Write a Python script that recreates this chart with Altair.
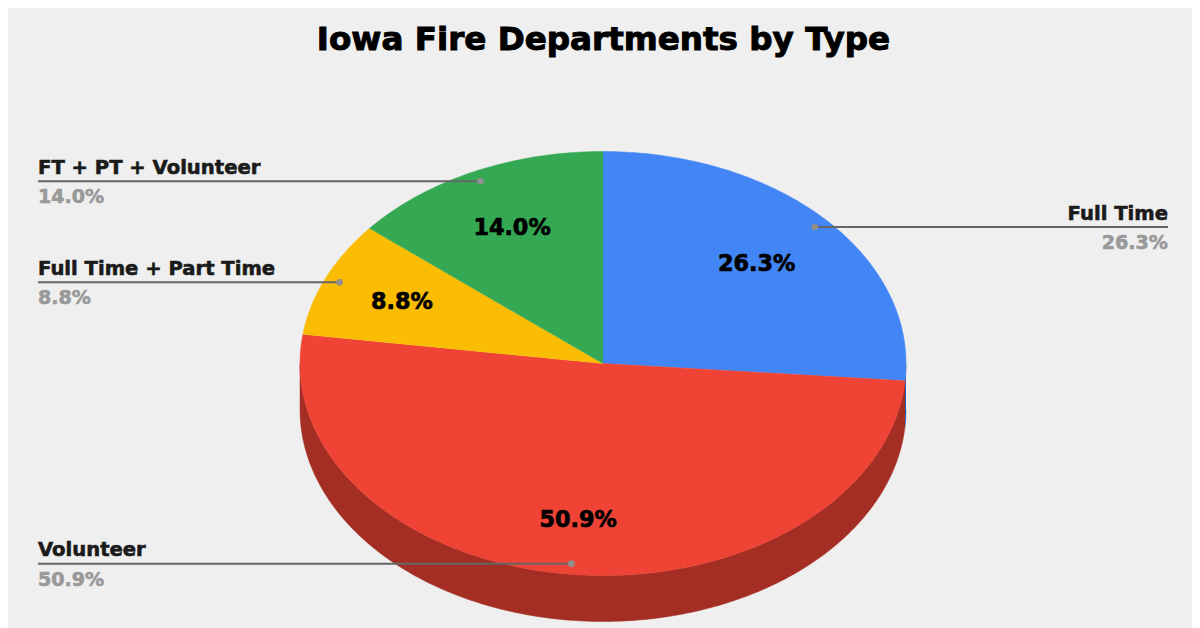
import math
import altair as alt
import pandas as pd

TITLE = "Iowa Fire Departments by Type"
categories = ["Full Time", "Volunteer", "Full Time + Part Time", "FT + PT + Volunteer"]
shares = [26.3, 50.9, 8.8, 14.0]
top_colors = ["#4285F4", "#EE4335", "#FBBC04", "#34A853"]
wall_colors = ["#2A5CAB", "#A52E24", "#B08403", "#24763A"]
label_radius = [0.69, 0.745, 0.725, 0.705]
label_side = ["right", "left", "left", "left"]

BG = "#EFEFEF"
FONT = "DejaVu Sans"
W, H = 1184, 620
CX, CY, RX, RY, DEPTH = 595, 355.5, 303, 212, 46  # plot-area pixels

xs = alt.Scale(domain=[-CX / RX, (W - CX) / RX], range=[0, W], nice=False, zero=False)
ys = alt.Scale(domain=[-(H - CY) / RY, CY / RY], range=[H, 0], nice=False, zero=False)
X = lambda f: alt.X(f, type="quantitative", scale=xs, axis=None)
Y = lambda f: alt.Y(f, type="quantitative", scale=ys, axis=None)

top_rows, wall_rows, dots, inner = [], [], [], []
start = 0.0
for i, (name, share) in enumerate(zip(categories, shares)):
    a0, a1 = start / 100 * 2 * math.pi, (start + share) / 100 * 2 * math.pi
    mid = (a0 + a1) / 2
    n = max(8, int(share * 4))
    arc = [a0 + (a1 - a0) * k / n for k in range(n + 1)]
    pts = [(0.0, 0.0)] + [(math.sin(t), math.cos(t)) for t in arc]
    for k, (px, py) in enumerate(pts):
        top_rows.append(dict(key=name, k=k, x=px, y=py))
    lo, hi = max(a0, math.pi / 2), min(a1, 3 * math.pi / 2)
    if lo < hi:
        vis = [lo + (hi - lo) * k / n for k in range(n + 1)]
        ring = [(math.sin(t), math.cos(t)) for t in vis]
        ring += [(math.sin(t), math.cos(t) - DEPTH / RY) for t in reversed(vis)]
        for k, (px, py) in enumerate(ring):
            wall_rows.append(dict(key=name, k=k, x=px, y=py))
    dx, dy = 0.95 * math.sin(mid), 0.95 * math.cos(mid)
    right = label_side[i] == "right"
    outer = (1160 - CX) / RX if right else (30 - CX) / RX
    dots.append(dict(key=name, x=dx, y=dy, x2=outer, value=f"{share:.1f}%", align=label_side[i]))
    inner.append(dict(x=label_radius[i] * math.sin(mid), y=label_radius[i] * math.cos(mid), text=f"{share:.1f}%"))
    start += share

top_df, wall_df, dot_df, inner_df = map(pd.DataFrame, (top_rows, wall_rows, dots, inner))
color_top = alt.Scale(domain=categories, range=top_colors)
color_wall = alt.Scale(domain=categories, range=wall_colors)

wall = alt.Chart(wall_df).mark_line(strokeWidth=0.5, interpolate="linear").encode(
    x=X("x"), y=Y("y"), order="k:Q",
    fill=alt.Fill("key:N", scale=color_wall, legend=None),
    stroke=alt.Stroke("key:N", scale=color_wall, legend=None),
)
top = alt.Chart(top_df).mark_line(strokeWidth=0.5, interpolate="linear").encode(
    x=X("x"), y=Y("y"), order="k:Q",
    fill=alt.Fill("key:N", scale=color_top, legend=None),
    stroke=alt.Stroke("key:N", scale=color_top, legend=None),
)
inner_text = alt.Chart(inner_df).mark_text(
    font=FONT, fontWeight="bold", fontSize=22.3, color="#000000", stroke="#000000", strokeWidth=0.7,
    align="center", baseline="middle",
).encode(x=X("x"), y=Y("y"), text="text:N")
rules = alt.Chart(dot_df).mark_rule(color="#666666", strokeWidth=2).encode(x=X("x"), x2="x2:Q", y=Y("y"))
points = alt.Chart(dot_df).mark_circle(color="#8F8F8F", size=44, opacity=1).encode(x=X("x"), y=Y("y"))

name_layers, value_layers = [], []
for side in ["left", "right"]:
    sub = dot_df[dot_df["align"] == side]
    name_layers.append(alt.Chart(sub).mark_text(
        font=FONT, fontWeight="bold", fontSize=19.6, color="#1A1A1A", stroke="#1A1A1A", strokeWidth=0.6,
        align=side, baseline="alphabetic", dy=-7.5,
    ).encode(x=X("x2"), y=Y("y"), text="key:N"))
    value_layers.append(alt.Chart(sub).mark_text(
        font=FONT, fontWeight="bold", fontSize=19.1, color="#999999", stroke="#999999", strokeWidth=0.6,
        align=side, baseline="alphabetic", dy=22,
    ).encode(x=X("x2"), y=Y("y"), text="value:N"))

title = alt.Chart(pd.DataFrame({"t": [TITLE]})).mark_text(
    font=FONT, fontWeight="bold", fontSize=32.6, color="#000000", stroke="#000000", strokeWidth=1,
    align="center", baseline="alphabetic",
).encode(x=alt.value(595.5), y=alt.value(42), text="t:N")

chart = alt.layer(wall, top, rules, points, inner_text, *name_layers, *value_layers, title).properties(
    width=W, height=H, background=BG, padding=0,
    autosize=alt.AutoSizeParams(type="none"),
).resolve_scale(fill="independent", stroke="independent").configure_view(stroke=None)

chart.save("out.html", embed_options={"renderer": "svg", "actions": False})
